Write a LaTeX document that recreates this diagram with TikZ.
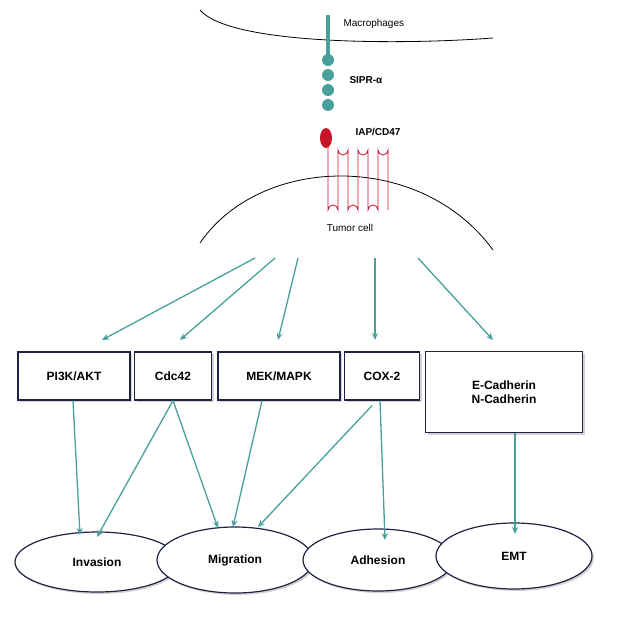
\documentclass[tikz,border=0pt]{standalone}
\usepackage{fontspec}
\setmainfont{Liberation Sans}
\usetikzlibrary{arrows.meta, shadows, shapes.geometric}
\definecolor{teal1}{RGB}{72,160,155}
\definecolor{navy}{RGB}{30,35,70}
\definecolor{cdred}{RGB}{200,20,40}
\tikzstyle{box}=[rectangle, draw=navy, very thick, fill=white, font=\bfseries\large, inner sep=0pt, drop shadow={opacity=0.35, shadow xshift=2pt, shadow yshift=-2pt}]
\tikzstyle{outcome}=[ellipse, draw=navy, very thick, fill=white, font=\bfseries\large, inner sep=0pt, drop shadow={opacity=0.35, shadow xshift=2pt, shadow yshift=-2pt}]
\tikzstyle{sig}=[-{Stealth[length=7pt,width=6pt]}, teal1, line width=1.3pt]
\begin{document}
\begin{tikzpicture}[x=1pt, y=-1pt]
  \useasboundingbox (0,0) rectangle (616,618);
  % membranes
  \draw[thick] (200,10) .. controls (230,45) and (400,45) .. (493,38);
  \draw[thick] (200,243) .. controls (260,155) and (420,150) .. (493,250);
  % receptor
  \draw[teal1, line width=3.5pt] (328,15) -- (328,55);
  \foreach \y in {60,75,90,105}
    \fill[teal1] (328,\y) circle (6);
  \draw[cdred, thick] (328,147) -- (328,210) arc (180:360:5) -- (338,150) arc (180:0:5)
    -- (348,210) arc (180:360:5) -- (358,150) arc (180:0:5) -- (368,210) arc (180:360:5) -- (378,150)
    arc (180:0:5) -- (388,210);
  \fill[cdred] (326,138) ellipse (6 and 10);
  \node[anchor=west] (mac) at (340,24) {Macrophages};
  \node[anchor=west, font=\bfseries] (sipr) at (346,80) {SIPR-α};
  \node[anchor=west, font=\bfseries] (iap) at (352,132) {IAP/CD47};
  \node (tum) at (350,228) {Tumor cell};
  % sources on the cell
  \coordinate (c1) at (255,258);
  \coordinate (c2) at (275,258);
  \coordinate (c3) at (298,258);
  \coordinate (c4) at (375,258);
  \coordinate (c5) at (418,258);
  % boxes
  \node[box, minimum width=112pt, minimum height=48pt] (pi3k) at (74,376) {PI3K/AKT};
  \node[box, minimum width=77pt, minimum height=48pt] (cdc) at (173,376) {Cdc42};
  \node[box, minimum width=122pt, minimum height=48pt] (mek) at (279,376) {MEK/MAPK};
  \node[box, minimum width=75pt, minimum height=48pt] (cox) at (382,376) {COX-2};
  \node[box, minimum width=157pt, minimum height=81pt, align=center] (cad) at (504,392) {E-Cadherin\\N-Cadherin};
  % outcomes
  \node[outcome, minimum width=164pt, minimum height=60pt] (inv) at (97,562) {Invasion};
  \node[outcome, minimum width=156pt, minimum height=66pt] (mig) at (235,560) {Migration};
  \node[outcome, minimum width=150pt, minimum height=62pt] (adh) at (378,560) {Adhesion};
  \node[outcome, minimum width=156pt, minimum height=66pt] (emt) at (514,556) {EMT};
  % arrows
  \draw[sig] (c1) -- (102,340);
  \draw[sig] (c2) -- (180,340);
  \draw[sig] (c3) -- (278,340);
  \draw[sig] (c4) -- (375,340);
  \draw[sig] (c5) -- (493,340);
  \draw[sig] (pi3k.south) ++(-1,0) -- (80,535);
  \draw[sig] (cdc.south) -- (97,537);
  \draw[sig] (cdc.south) -- (218,528);
  \draw[sig] (mek.south) ++(-17,0) -- (233,527);
  \draw[sig] (cox.south) ++(-10,5) -- (258,527);
  \draw[sig] (cox.south) ++(-2,0) -- (385,540);
  \draw[sig] (cad.south) ++(11,0) -- (515,534);
\end{tikzpicture}
\end{document}
